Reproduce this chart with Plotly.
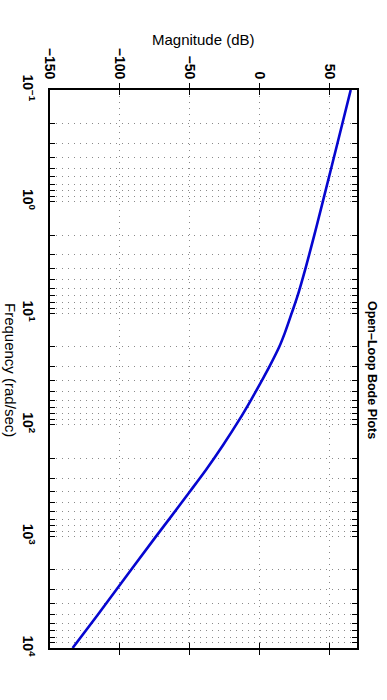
import plotly.graph_objects as go

# Data read from the (rotated) Bode magnitude plot
freq = [0.1, 0.3, 1, 2, 4, 7, 10, 15, 20, 30, 40, 60, 90, 150, 250, 400, 700, 1000, 2000, 5000, 10000]
mag_db = [65.5, 56.0, 45.5, 39.4, 33.0, 27.4, 23.2, 18.3, 14.3, 7.3, 1.9, -6.0, -14.3, -25.7, -37.9, -50.0, -64.6, -74.0, -92.0, -115.6, -133.8]

mag_ticks = [-150, -100, -50, 0, 50]
mag_ticktext = ["\u2212150", "\u2212100", "\u221250", "0", "50"]
decade_exps = [-1, 0, 1, 2, 3, 4]
minor_mult = [2, 3, 4, 5, 6, 7, 8, 9]

decade_ticks = [10.0 ** e for e in decade_exps]
decade_text = ["10<sup>%s</sup>" % str(e).replace("-", "\u2212") for e in decade_exps]
minor_ticks = [m * 10.0 ** e for e in decade_exps[:-1] for m in minor_mult]

W, H = 387, 700
L, R, T, B = 50, 30, 90, 52
pw, ph = W - L - R, H - T - B

def px(xpix):
    return (xpix - L) / pw

def py(ypix):
    return (H - B - ypix) / ph

fig = go.Figure()
# transparent copy so the minor-grid axis is drawn
fig.add_trace(go.Scatter(
    x=mag_db, y=freq, mode="lines", yaxis="y2",
    line=dict(color="rgba(0,0,0,0)", width=0),
    hoverinfo="skip", showlegend=False,
))
fig.add_trace(go.Scatter(
    x=mag_db, y=freq, mode="lines",
    line=dict(color="#0606d0", width=2.6, shape="spline", smoothing=1.0),
    hoverinfo="skip", showlegend=False,
))

axfont = dict(family="Liberation Sans, Arial, sans-serif", size=14, color="black", weight="bold")
grid_common = dict(showgrid=True, gridcolor="#8a8a8a", griddash="1px,5px", gridwidth=1)

fig.update_layout(
    width=W, height=H,
    margin=dict(l=L, r=R, t=T, b=B),
    paper_bgcolor="white", plot_bgcolor="white",
    showlegend=False,
    xaxis=dict(
        range=[-150, 70], side="top",
        tickvals=mag_ticks, ticktext=mag_ticktext, tickangle=90,
        tickfont=axfont,
        ticks="inside", ticklen=5, tickwidth=1.2, tickcolor="black",
        showline=True, linecolor="black", linewidth=1.6, mirror="allticks",
        zeroline=False, ticklabelstandoff=4, **grid_common,
    ),
    yaxis=dict(
        type="log", range=[4, -1],
        tickvals=decade_ticks, ticktext=decade_text, tickangle=90,
        tickfont=axfont,
        ticks="inside", ticklen=5, tickwidth=1.2, tickcolor="black",
        showline=True, linecolor="black", linewidth=1.6, mirror="allticks",
        zeroline=False, ticklabelstandoff=8, **grid_common,
    ),
    yaxis2=dict(
        type="log", range=[4, -1], overlaying="y", side="left",
        tickvals=minor_ticks, showticklabels=False,
        ticks="inside", ticklen=5, tickwidth=1.2, tickcolor="black",
        showline=False, mirror="allticks",
        zeroline=False, **grid_common,
    ),
    annotations=[
        dict(text="Magnitude (dB)", xref="paper", yref="paper",
             x=px(203), y=py(39), xanchor="center", yanchor="middle",
             showarrow=False,
             font=dict(family="Liberation Sans, Arial, sans-serif", size=15, color="black")),
        dict(text="Frequency (rad/sec)", xref="paper", yref="paper",
             x=px(11), y=py(370), xanchor="center", yanchor="middle",
             textangle=90, showarrow=False,
             font=dict(family="Liberation Sans, Arial, sans-serif", size=15, color="black")),
        dict(text="<b>Open\u2013Loop Bode Plots</b>", xref="paper", yref="paper",
             x=px(372), y=py(370), xanchor="center", yanchor="middle",
             textangle=90, showarrow=False,
             font=dict(family="Liberation Sans, Arial, sans-serif", size=12.5, color="black")),
    ],
)

fig.write_html("out.html")
